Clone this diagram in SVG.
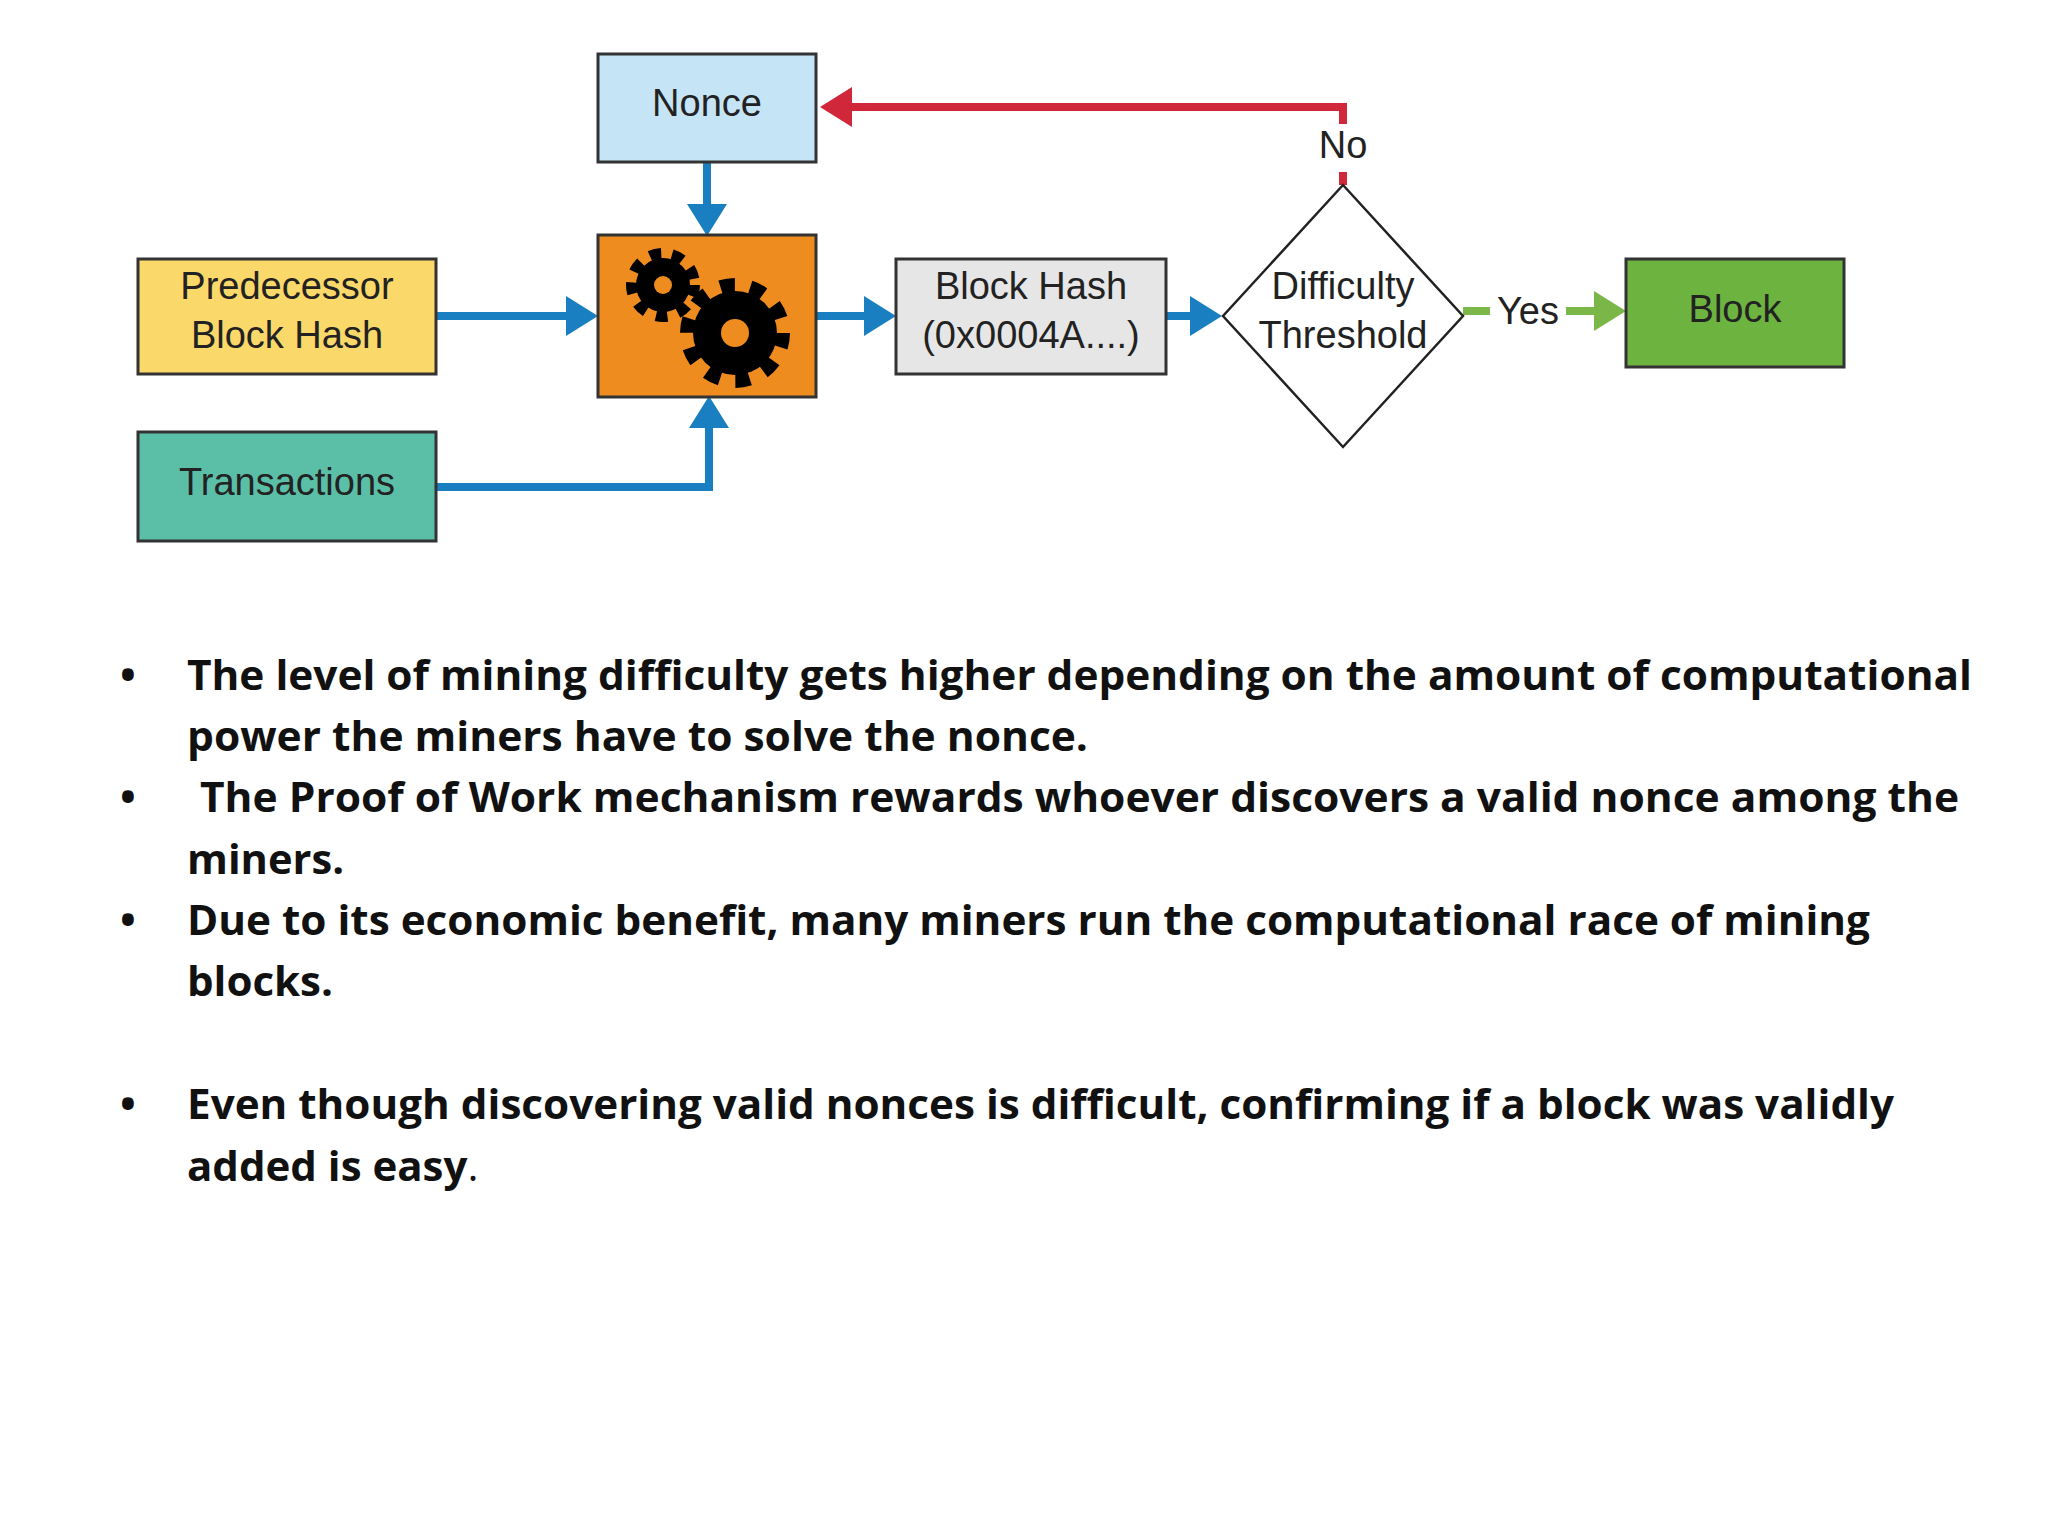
<svg xmlns="http://www.w3.org/2000/svg" width="2048" height="1536" viewBox="0 0 2048 1536">
<style>
.box{stroke:#333;stroke-width:3}
.lbl{font-family:"Liberation Sans",Arial,sans-serif;font-size:38px;fill:#222;text-anchor:middle}
.blue{stroke:#1a7fc1;stroke-width:8;fill:none}
.bt{font-family:"Open Sans","Liberation Sans",sans-serif;font-weight:bold;font-size:42px;fill:#111}
</style>
<defs>
<marker id="ab" markerWidth="5" markerHeight="5" refX="2" refY="2.5" orient="auto"><path d="M0,0 L4,2.5 L0,5 Z" fill="#1a7fc1"/></marker>
<marker id="ar" markerWidth="5" markerHeight="5" refX="2" refY="2.5" orient="auto"><path d="M0,0 L4,2.5 L0,5 Z" fill="#d0273a"/></marker>
<marker id="ag" markerWidth="5" markerHeight="5" refX="2" refY="2.5" orient="auto"><path d="M0,0 L4,2.5 L0,5 Z" fill="#7ab648"/></marker>
</defs>
<rect width="2048" height="1536" fill="#fff"/>
<g id="connectors">
<path class="blue" d="M707,162 V220" marker-end="url(#ab)"/>
<path class="blue" d="M436,316 H582" marker-end="url(#ab)"/>
<path class="blue" d="M816,316 H880" marker-end="url(#ab)"/>
<path class="blue" d="M1166,316 H1206" marker-end="url(#ab)"/>
<path class="blue" d="M436,487 H709 V412" marker-end="url(#ab)"/>
<path d="M1343,185 V107 H836" stroke="#d0273a" stroke-width="8" fill="none" marker-end="url(#ar)"/>
<rect x="1325" y="124" width="36" height="48" fill="#fff"/>
<text class="lbl" x="1343" y="158">No</text>
<path d="M1463,311 H1610" stroke="#7ab648" stroke-width="8" fill="none" marker-end="url(#ag)"/>
<rect x="1490" y="290" width="76" height="44" fill="#fff"/>
<text class="lbl" x="1528" y="324">Yes</text>
</g>
<g id="nonce"><rect class="box" x="598" y="54" width="218" height="108" fill="#c5e5f7"/><text class="lbl" x="707" y="116">Nonce</text></g>
<g id="miner"><rect class="box" x="598" y="235" width="218" height="162" fill="#ef8c1f"/>
<circle cx="735" cy="333" r="42" fill="#000"/><circle cx="735" cy="333" r="46" fill="none" stroke="#000" stroke-width="18" stroke-dasharray="14 14.9"/><circle cx="735" cy="333" r="14" fill="#ef8c1f"/>
<circle cx="663" cy="285" r="27" fill="#000"/><circle cx="663" cy="285" r="30" fill="none" stroke="#000" stroke-width="14" stroke-dasharray="11 10.4"/><circle cx="663" cy="285" r="9" fill="#ef8c1f"/>
</g>
<g id="pred"><rect class="box" x="138" y="259" width="298" height="115" fill="#fbd86a"/><text class="lbl" x="287" y="299">Predecessor</text><text class="lbl" x="287" y="348">Block Hash</text></g>
<g id="tx"><rect class="box" x="138" y="432" width="298" height="109" fill="#5bbfa7"/><text class="lbl" x="287" y="495">Transactions</text></g>
<g id="hash"><rect class="box" x="896" y="259" width="270" height="115" fill="#e6e6e6"/><text class="lbl" x="1031" y="299">Block Hash</text><text class="lbl" x="1031" y="348">(0x0004A....)</text></g>
<g id="diff"><path d="M1343,185 L1463,316 L1343,447 L1223,316 Z" fill="#fff" stroke="#222" stroke-width="2.5"/><text class="lbl" x="1343" y="299">Difficulty</text><text class="lbl" x="1343" y="348">Threshold</text></g>
<g id="block"><rect class="box" x="1626" y="259" width="218" height="108" fill="#6db33f"/><text class="lbl" x="1735" y="322">Block</text></g>
<g id="text">
<text class="bt" x="120" y="690">•</text><text class="bt" x="120" y="812">•</text><text class="bt" x="120" y="935">•</text><text class="bt" x="120" y="1119">•</text>
<text class="bt" x="187" y="690" textLength="1785" lengthAdjust="spacingAndGlyphs">The level of mining difficulty gets higher depending on the amount of computational</text>
<text class="bt" x="187" y="751" textLength="901" lengthAdjust="spacingAndGlyphs">power the miners have to solve the nonce.</text>
<text class="bt" x="200" y="812" textLength="1759" lengthAdjust="spacingAndGlyphs">The Proof of Work mechanism rewards whoever discovers a valid nonce among the</text>
<text class="bt" x="187" y="874" textLength="157" lengthAdjust="spacingAndGlyphs">miners.</text>
<text class="bt" x="187" y="935" textLength="1683" lengthAdjust="spacingAndGlyphs">Due to its economic benefit, many miners run the computational race of mining</text>
<text class="bt" x="187" y="996" textLength="146" lengthAdjust="spacingAndGlyphs">blocks.</text>
<text class="bt" x="187" y="1119" textLength="1707" lengthAdjust="spacingAndGlyphs">Even though discovering valid nonces is difficult, confirming if a block was validly</text>
<text class="bt" x="187" y="1181">added is easy<tspan font-weight="normal">.</tspan></text>
</g>
</svg>
